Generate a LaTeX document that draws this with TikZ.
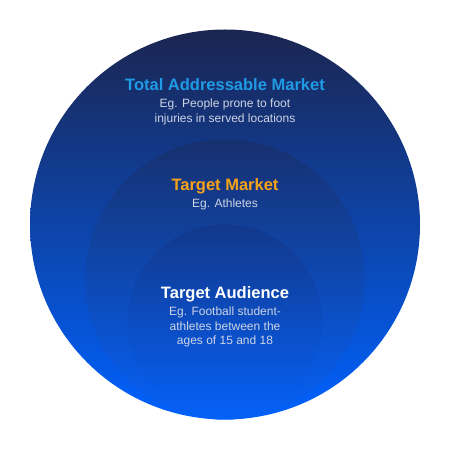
\documentclass[tikz,border=0pt]{standalone}
\usepackage{fontspec}
\setmainfont{Liberation Sans}
\definecolor{navyA}{HTML}{1B2550}
\definecolor{navyB}{HTML}{17306E}
\definecolor{navyC}{HTML}{12388A}
\definecolor{brightblue}{HTML}{0062FF}
\definecolor{brightblueB}{HTML}{0561F8}
\definecolor{titleblue}{HTML}{1F9BE6}
\definecolor{titleorange}{HTML}{F7A21B}
\definecolor{subgray}{HTML}{CDD4E4}
\begin{document}
\begin{tikzpicture}[x=1pt,y=1pt,
  title/.style={anchor=base,inner sep=0pt,font=\fontsize{16.5}{18}\selectfont\bfseries},
  sub/.style={anchor=base,inner sep=0pt,font=\fontsize{12}{14}\selectfont,text=subgray}]
\useasboundingbox (0,0) rectangle (450,450);
\shade[top color=navyA,bottom color=brightblue] (225,225.5) circle (195);
\shade[top color=navyB,bottom color=brightblueB] (225,170.5) circle (140);
\shade[top color=navyC,bottom color=brightblueB] (225,128) circle (97.5);
\node[title,text=titleblue] (tam) at (225,359.3) {Total Addressable Market};
\node[sub] (tam1) at (225,342) {Eg. People prone to foot};
\node[sub] (tam2) at (225,327) {injuries in served locations};
\node[title,text=titleorange] (tm) at (225,259.3) {Target Market};
\node[sub] (tm1) at (225,242) {Eg. Athletes};
\node[title,text=white] (ta) at (225,151.7) {Target Audience};
\node[sub] (ta1) at (225,134.3) {Eg. Football student-};
\node[sub] (ta2) at (225,119.3) {athletes between the};
\node[sub] (ta3) at (225,105) {ages of 15 and 18};
\end{tikzpicture}
\end{document}
